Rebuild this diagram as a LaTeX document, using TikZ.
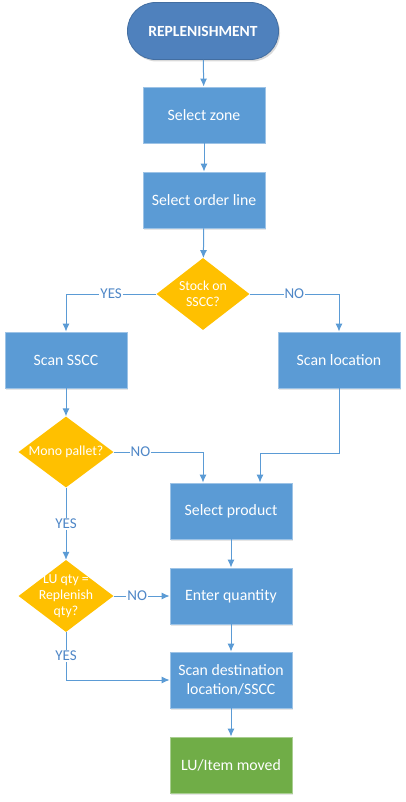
\documentclass[tikz,border=0pt]{standalone}
\usepackage{fontspec}
\setmainfont{Carlito}
\usepackage{xcolor}
\usetikzlibrary{positioning,arrows.meta,calc,shapes.geometric,shadows}
\definecolor{boxblue}{HTML}{5B9BD5}
\definecolor{startblue}{HTML}{4F81BD}
\definecolor{gold}{HTML}{FFC000}
\definecolor{leafgreen}{HTML}{70AD47}
\definecolor{labelblue}{HTML}{4F87C7}

\begin{document}
\begin{tikzpicture}[
  x=1pt, y=-1pt,
  process/.style={rectangle, fill=boxblue, draw=boxblue!60!white, line width=0.8pt, text=white, align=center,
    minimum width=122pt, minimum height=56pt, font=\fontsize{15.8}{19.5}\selectfont,
    drop shadow={shadow xshift=1pt, shadow yshift=-1.5pt, opacity=0.2}},
  decision/.style={diamond, fill=gold, text=white, align=center, inner sep=-5pt, shape aspect=1.3,
    font=\fontsize{13.8}{16}\selectfont},
  terminal/.style={rectangle, rounded corners=28pt, fill=startblue, draw=startblue!85!black, line width=0.8pt,
    text=white, minimum width=151pt, minimum height=57pt, font=\fontsize{15.5}{17}\selectfont\bfseries,
    drop shadow={shadow xshift=1.5pt, shadow yshift=-2pt, opacity=0.3}},
  edge/.style={-{Latex[length=8pt, width=7pt]}, draw=boxblue, line width=1pt},
  answer/.style={fill=white, inner sep=1pt, text=labelblue, font=\fontsize{15}{17}\selectfont}
]
  \useasboundingbox (0,0) rectangle (406,802);

  \node[terminal] (start) at (203,31) {REPLENISHMENT};
  \node[process] (zone) at (204,115) {Select zone};
  \node[process] (oline) at (204,200) {Select order line};
  \node[decision, minimum width=93pt, minimum height=72pt] (stock) at (203,294) {Stock on\\SSCC?};
  \node[process] (sscc) at (66,360) {Scan SSCC};
  \node[process] (loc) at (339,360) {Scan location};
  \node[decision, minimum width=95pt, minimum height=71pt] (mono) at (66,452) {Mono pallet?};
  \node[process] (prod) at (231,511) {Select product};
  \node[decision, minimum width=95pt, minimum height=72pt] (qtycheck) at (66,596) {LU qty =\\Replenish\\qty?};
  \node[process] (qty) at (231,596) {Enter quantity};
  \node[process] (dest) at (231,680) {Scan destination\\location/SSCC};
  \node[process, fill=leafgreen, draw=leafgreen!60!white] (moved) at (231,765) {LU/Item moved};

  \coordinate (join) at (260,453);

  \draw[edge] (start) -- (zone);
  \draw[edge] (zone) -- (oline);
  \draw[edge] (oline) -- (stock);
  \draw[edge] (stock) -| node[answer, pos=0.25] {YES} (sscc);
  \draw[edge] (stock) -| node[answer, pos=0.25] {NO} (loc);
  \draw[edge] (sscc) -- (mono);
  \draw[edge] (mono) -| node[answer, pos=0.15] {NO} ([xshift=-28pt]prod.north);
  \draw[edge] (loc) |- (join) -- (join |- prod.north);
  \draw[edge] (prod) -- (qty);
  \draw[edge] (mono) -- node[answer] {YES} (qtycheck);
  \draw[edge] (qtycheck) -- node[answer, pos=0.42] {NO} (qty);
  \draw[edge] (qtycheck) |- node[answer, pos=0.25] {YES} (dest);
  \draw[edge] (qty) -- (dest);
  \draw[edge] (dest) -- (moved);
\end{tikzpicture}
\end{document}
